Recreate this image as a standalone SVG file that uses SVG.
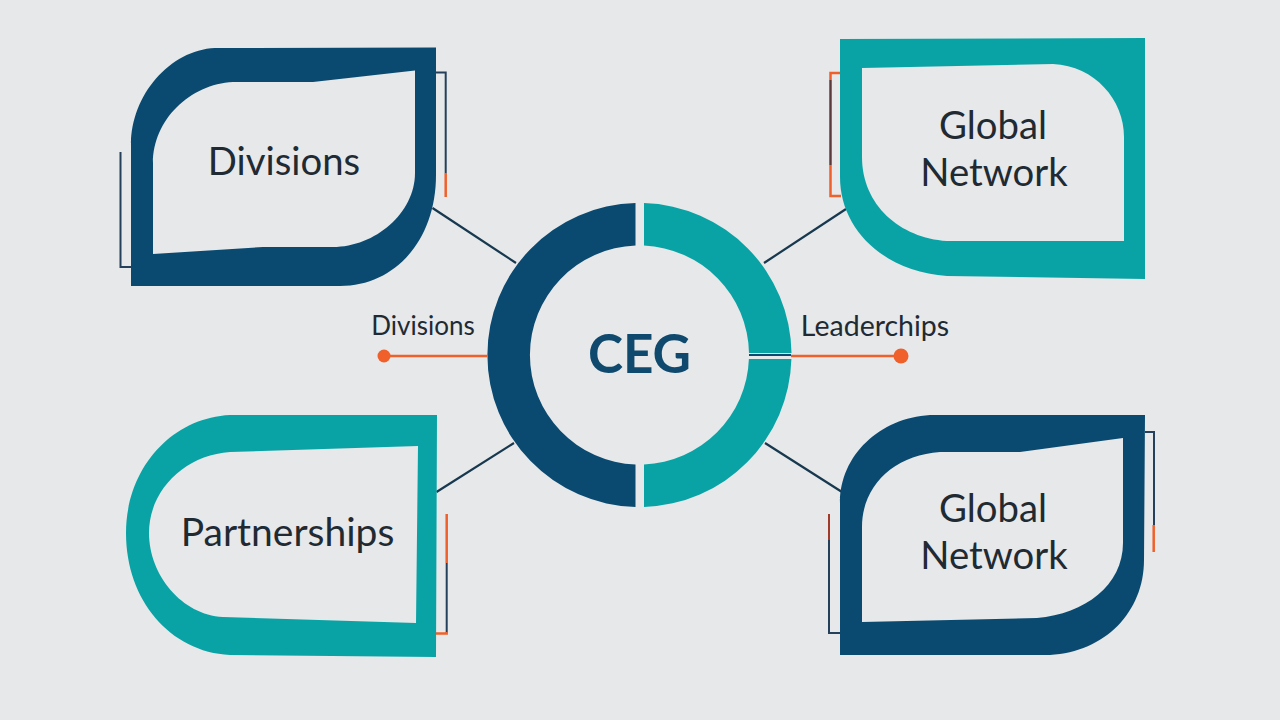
<svg xmlns="http://www.w3.org/2000/svg" width="1280" height="720" viewBox="0 0 1280 720">
<style>
.navy{fill:#0b4a70;fill-rule:evenodd}
.teal{fill:#0aa3a5;fill-rule:evenodd}
.lbl{font-family:Lato,"Noto Sans",sans-serif;font-size:38.300px;fill:#1f2a33;text-anchor:middle}
.sm{font-family:Lato,"Noto Sans",sans-serif;font-size:26px;fill:#1f2a33;text-anchor:middle}
.d{fill:none;stroke:#24405a;stroke-width:2}
.o{fill:none;stroke:#f0602a;stroke-width:2.500}
.c{fill:none;stroke:#17384e;stroke-width:2.200}
</style>
<rect width="1280" height="720" fill="#e6e8ea"/>
<g id="connectors">
<path class="c" d="M432.500 208L516 263M846 209L764 263M514 443L436.500 492M765 443L842 492"/>
<path class="o" d="M384 356H487M791 356H901"/>
<circle cx="384" cy="356" r="6.500" fill="#f0602a"/>
<circle cx="901" cy="356" r="7.500" fill="#f0602a"/>
</g>
<g id="node-divisions">
<path class="d" d="M120.500 152V267H132M436 72.500H445.700V173"/>
<path class="o" d="M445.700 173V197"/>
<path class="navy" d="M436 47.500L215 48C170 50 131 95 131 145V286H340C395 286 436 240 436 175ZM415 70.500L313 82H233C190 84 153 120 153 163V254L263 247H333C375 247 415 213 415 173Z"/>
<text class="lbl" x="284" y="175">Divisions</text>
</g>
<g id="node-global-top">
<path class="o" d="M840 73H830.500V196H841"/>
<path d="M830.500 80V165" fill="none" stroke="#5a3a3a" stroke-width="2"/>
<path class="teal" d="M840 39L1145 38V279L947 276C885 272 840 230 840 177ZM862 68L1053 64C1095 66 1124 100 1124 137V241H947C900 238 862 205 862 157Z"/>
<text class="lbl" x="993" y="139">Global</text>
<text class="lbl" x="994" y="186">Network</text>
</g>
<g id="node-ceg">
<path class="navy" d="M635.500 203.050A152 152 0 0 0 635.500 506.950V464.430A109.500 109.500 0 0 1 635.500 245.570Z"/>
<path class="teal" d="M644 203.070A152 152 0 0 1 791.500 353H749A109.500 109.500 0 0 0 644 245.590ZM791.400 359A152 152 0 0 1 644 506.930V464.410A109.500 109.500 0 0 0 748.900 359Z"/>
<path d="M749 355H791" fill="none" stroke="#0b4a70" stroke-width="2"/>
<text x="639.500" y="373" font-family="Lato,'Noto Sans',sans-serif" font-size="53" font-weight="700" fill="#0f4a6e" text-anchor="middle">CEG</text>
</g>
<g id="label-divisions"><text class="sm" x="423" y="335">Divisions</text></g>
<g id="label-leaderchips"><text class="sm" x="875" y="336" style="font-size:28.500px">Leaderchips</text></g>
<g id="node-partnerships">
<path class="d" d="M446.700 563V633"/>
<path class="o" d="M446.700 514V563M446.700 632V633.500H436"/>
<path class="teal" d="M437 415L230 415C170 418 126 470 126 533C126 600 170 652 230 655L436 657ZM418 446L230 452C185 455 149 490 149 533C149 575 182 615 223 617L416 623Z"/>
<text class="lbl" x="287.500" y="545.500" style="font-size:39px">Partnerships</text>
</g>
<g id="node-global-bottom">
<path class="d" d="M1145 432H1154V525M829 540V633H841"/>
<path class="o" d="M1153.700 525V552"/>
<path d="M829 514V540" fill="none" stroke="#a03a2a" stroke-width="2"/>
<path class="navy" d="M1145 415H930C880 418 840 455 840 503V655H1050C1105 652 1144 612 1144 560ZM1123 438L1020 452H940C895 455 862 485 862 527V622L1037 618C1085 614 1123 585 1123 543Z"/>
<text class="lbl" x="993" y="522">Global</text>
<text class="lbl" x="994" y="569">Network</text>
</g>
</svg>
